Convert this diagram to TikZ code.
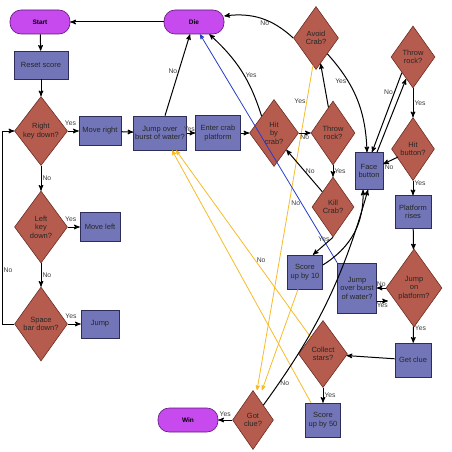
\documentclass[tikz,border=0pt]{standalone}
\usepackage{fontspec}
\setmainfont{Liberation Sans}
\usepackage[dvipsnames]{xcolor}
\usetikzlibrary{shapes,arrows,positioning,calc}
\definecolor{termfill}{RGB}{198,74,238}
\definecolor{termline}{RGB}{95,25,120}
\definecolor{boxfill}{RGB}{114,118,184}
\definecolor{boxline}{RGB}{45,45,90}
\definecolor{askfill}{RGB}{182,92,78}
\definecolor{askline}{RGB}{105,45,35}
\definecolor{goldline}{RGB}{246,188,40}
\definecolor{blueline}{RGB}{40,60,200}
\definecolor{lblgray}{RGB}{60,60,60}

\begin{document}
\begin{tikzpicture}[x=1pt, y=-1pt, ->, >=stealth', line width=1pt, node distance=59pt,
	term/.style={rectangle, rounded corners=11pt, draw=termline, fill=termfill, line width=0.6pt, minimum width=60pt, minimum height=24pt, font=\fontsize{6.5}{7}\selectfont\bfseries},
	box/.style={rectangle, draw=boxline, fill=boxfill, line width=0.6pt, align=center, inner sep=1pt, font=\fontsize{7.5}{8.5}\selectfont, text=black!85},
	ask/.style={diamond, draw=askline, fill=askfill, line width=0.6pt, align=center, inner sep=0pt, font=\fontsize{7.5}{8.5}\selectfont, text=black!85},
	lbl/.style={font=\fontsize{6.8}{7}\selectfont, text=lblgray, inner sep=1pt},
	gold/.style={draw=goldline, line width=0.8pt},
	blue/.style={draw=blueline, line width=0.8pt}]
	\useasboundingbox (0,0) rectangle (452,452);
	% left column
	\node [term] (start) at (40,22) {Start};
	\node [term] (die) at (194,22) {Die};
	\node [box, minimum width=54pt, minimum height=28pt] (reset) at (41,65) {Reset score};
	\node [ask, minimum width=53pt, minimum height=69pt] (rkey) at (41,131) {Right\\key down?};
	\node [ask, minimum width=53pt, minimum height=72pt] (lkey) [below of=rkey, node distance=96pt] {Left\\key\\down?};
	\node [ask, minimum width=53pt, minimum height=74pt] (space) [below of=lkey, node distance=97pt] {Space\\bar down?};
	\node [box, minimum width=42pt, minimum height=29pt] (right) [right of=rkey] {Move right};
	\node [box, minimum width=40pt, minimum height=29pt] (left) [right of=lkey] {Move left};
	\node [box, minimum width=38pt, minimum height=28pt] (jump) [right of=space] {Jump};
	% crab part
	\node [box, minimum width=53pt, minimum height=34pt] (water) at (160,133) {Jump over\\burst of water?};
	\node [box, minimum width=45pt, minimum height=35pt] (enter) at (218,133) {Enter crab\\platform};
	\node [ask, minimum width=49pt, minimum height=67pt] (hit) at (274,133) {Hit\\by\\crab?};
	\node [ask, minimum width=44pt, minimum height=64pt] (throw) at (333,133) {Throw\\rock?};
	\node [ask, minimum width=45pt, minimum height=63pt] (avoid) at (316,38) {Avoid\\Crab?};
	\node [ask, minimum width=42pt, minimum height=60pt] (kill) at (333,207) {Kill\\Crab?};
	\node [box, minimum width=35pt, minimum height=34pt] (ten) at (305,272) {Score\\up by 10};
	% button part
	\node [ask, minimum width=44pt, minimum height=62pt] (rock) at (413,57) {Throw\\rock?};
	\node [ask, minimum width=43pt, minimum height=63pt] (button) at (413,149) {Hit\\button?};
	\node [box, minimum width=28pt, minimum height=37pt] (face) at (369,171) {Face\\button};
	\node [box, minimum width=36pt, minimum height=33pt] (rises) at (413,212) {Platform\\rises};
	\node [ask, minimum width=56pt, minimum height=78pt] (onplat) at (414,288) {Jump\\on\\platform?};
	\node [box, minimum width=39pt, minimum height=50pt] (water2) at (357,288) {Jump\\over burst\\of water?};
	\node [box, minimum width=36pt, minimum height=34pt] (clue) at (413,360) {Get clue};
	\node [ask, minimum width=49pt, minimum height=67pt] (stars) at (323,354) {Collect\\stars?};
	\node [box, minimum width=35pt, minimum height=34pt] (fifty) at (323,420) {Score\\up by 50};
	\node [ask, minimum width=41pt, minimum height=59pt] (got) at (253,420) {Got\\clue?};
	\node [term] (win) at (188,420) {Win};

	% yellow and blue lines
	\path (stars.north west) edge [gold] node [lbl, right, pos=0.41] {No} ([xshift=16pt]water.south);
	\path ([xshift=-12pt]fifty.north) edge [gold] ([xshift=12pt]water.south);
	\path ($(avoid)+(-3,27)$) edge [gold] node [lbl, left, pos=0.11] {Yes} ([xshift=4pt]got.north);
	\path ([xshift=-7pt]ten.south) edge [gold] ([xshift=9pt]got.north);
	\path (water2.north west) edge [blue] node [lbl, left, pos=0.26] {No} ([xshift=6pt]die.south);

	\path (die) edge (start);
	\path (start) edge (reset);
	\path (reset) edge (rkey);
	\path (rkey) edge node [lbl, above=4pt, near start] {Yes} (right);
	\path (rkey) edge node [lbl, right] {No} (lkey);
	\path (lkey) edge node [lbl, above=4pt, near start] {Yes} (left);
	\path (lkey) edge node [lbl, right] {No} (space);
	\path (space) edge node [lbl, above=4pt, near start] {Yes} (jump);
	\draw (space.west) -- ++(-12,0) |- (rkey.west) node [lbl, pos=0.14, right] {No};
	\path (right) edge (water);
	\path (water) edge node [lbl, above, pos=0.3] {Yes} (enter);
	\path ([xshift=5pt]water.north) edge node [lbl, left, pos=0.55] {No} ([xshift=-4pt]die.south);
	\path (enter) edge (hit);
	\path (hit) edge node [lbl, below] {No} (throw);
	\path (hit.north west) edge [bend right=15] node [lbl, right, pos=0.45] {Yes} ([xshift=-15pt]die.south east);
	\path (avoid.west) edge [bend right=25] node [lbl, below, pos=0.45] {No} ([yshift=6pt]die.east);
	\path (throw) edge (avoid);
	\path (throw) edge node [lbl, right] {Yes} (kill);
	\path (avoid.south east) edge [bend left=20] node [lbl, left, pos=0.3] {Yes} ([xshift=-2pt]face.north);
	\path (rock.south west) edge node [lbl, left, pos=0.25] {No} ([xshift=3pt]face.north);
	\path ([xshift=8pt]face.north) edge ($(rock)+(-7,22)$);
	\path (rock) edge node [lbl, right] {Yes} (button);
	\path ($(button)+(-15,8)$) edge node [lbl, below=2pt, pos=0.6] {No} ([yshift=7pt]face.east);
	\path (button) edge node [lbl, right, pos=0.2] {Yes} (rises);
	\path (rises) edge (onplat);
	\path (onplat.west) edge node [lbl, above] {No} (water2.east);
	\path ([yshift=-13pt]water2.east) edge node [lbl, below] {Yes} ($(water2.east)+(11,13)$);
	\path (onplat) edge node [lbl, right, pos=0.1] {Yes} (clue);
	\path (clue) edge (stars);
	\path (stars) edge node [lbl, right] {Yes} (fifty);
	\path (kill.north west) edge node [lbl, right] {No} (hit.south east);
	\path (kill.south) edge node [lbl, left, pos=0.1] {Yes} ([xshift=8pt]ten.north);
	\path ([yshift=7pt]ten.east) edge [bend right=30] ([xshift=-6pt]face.south);
	\path (got.north east) edge [bend right=10] node [lbl, right, pos=0.1] {No} ([xshift=-1pt]face.south);
	\path (got) edge node [lbl, above=2pt] {Yes} (win);
\end{tikzpicture}
\end{document}
